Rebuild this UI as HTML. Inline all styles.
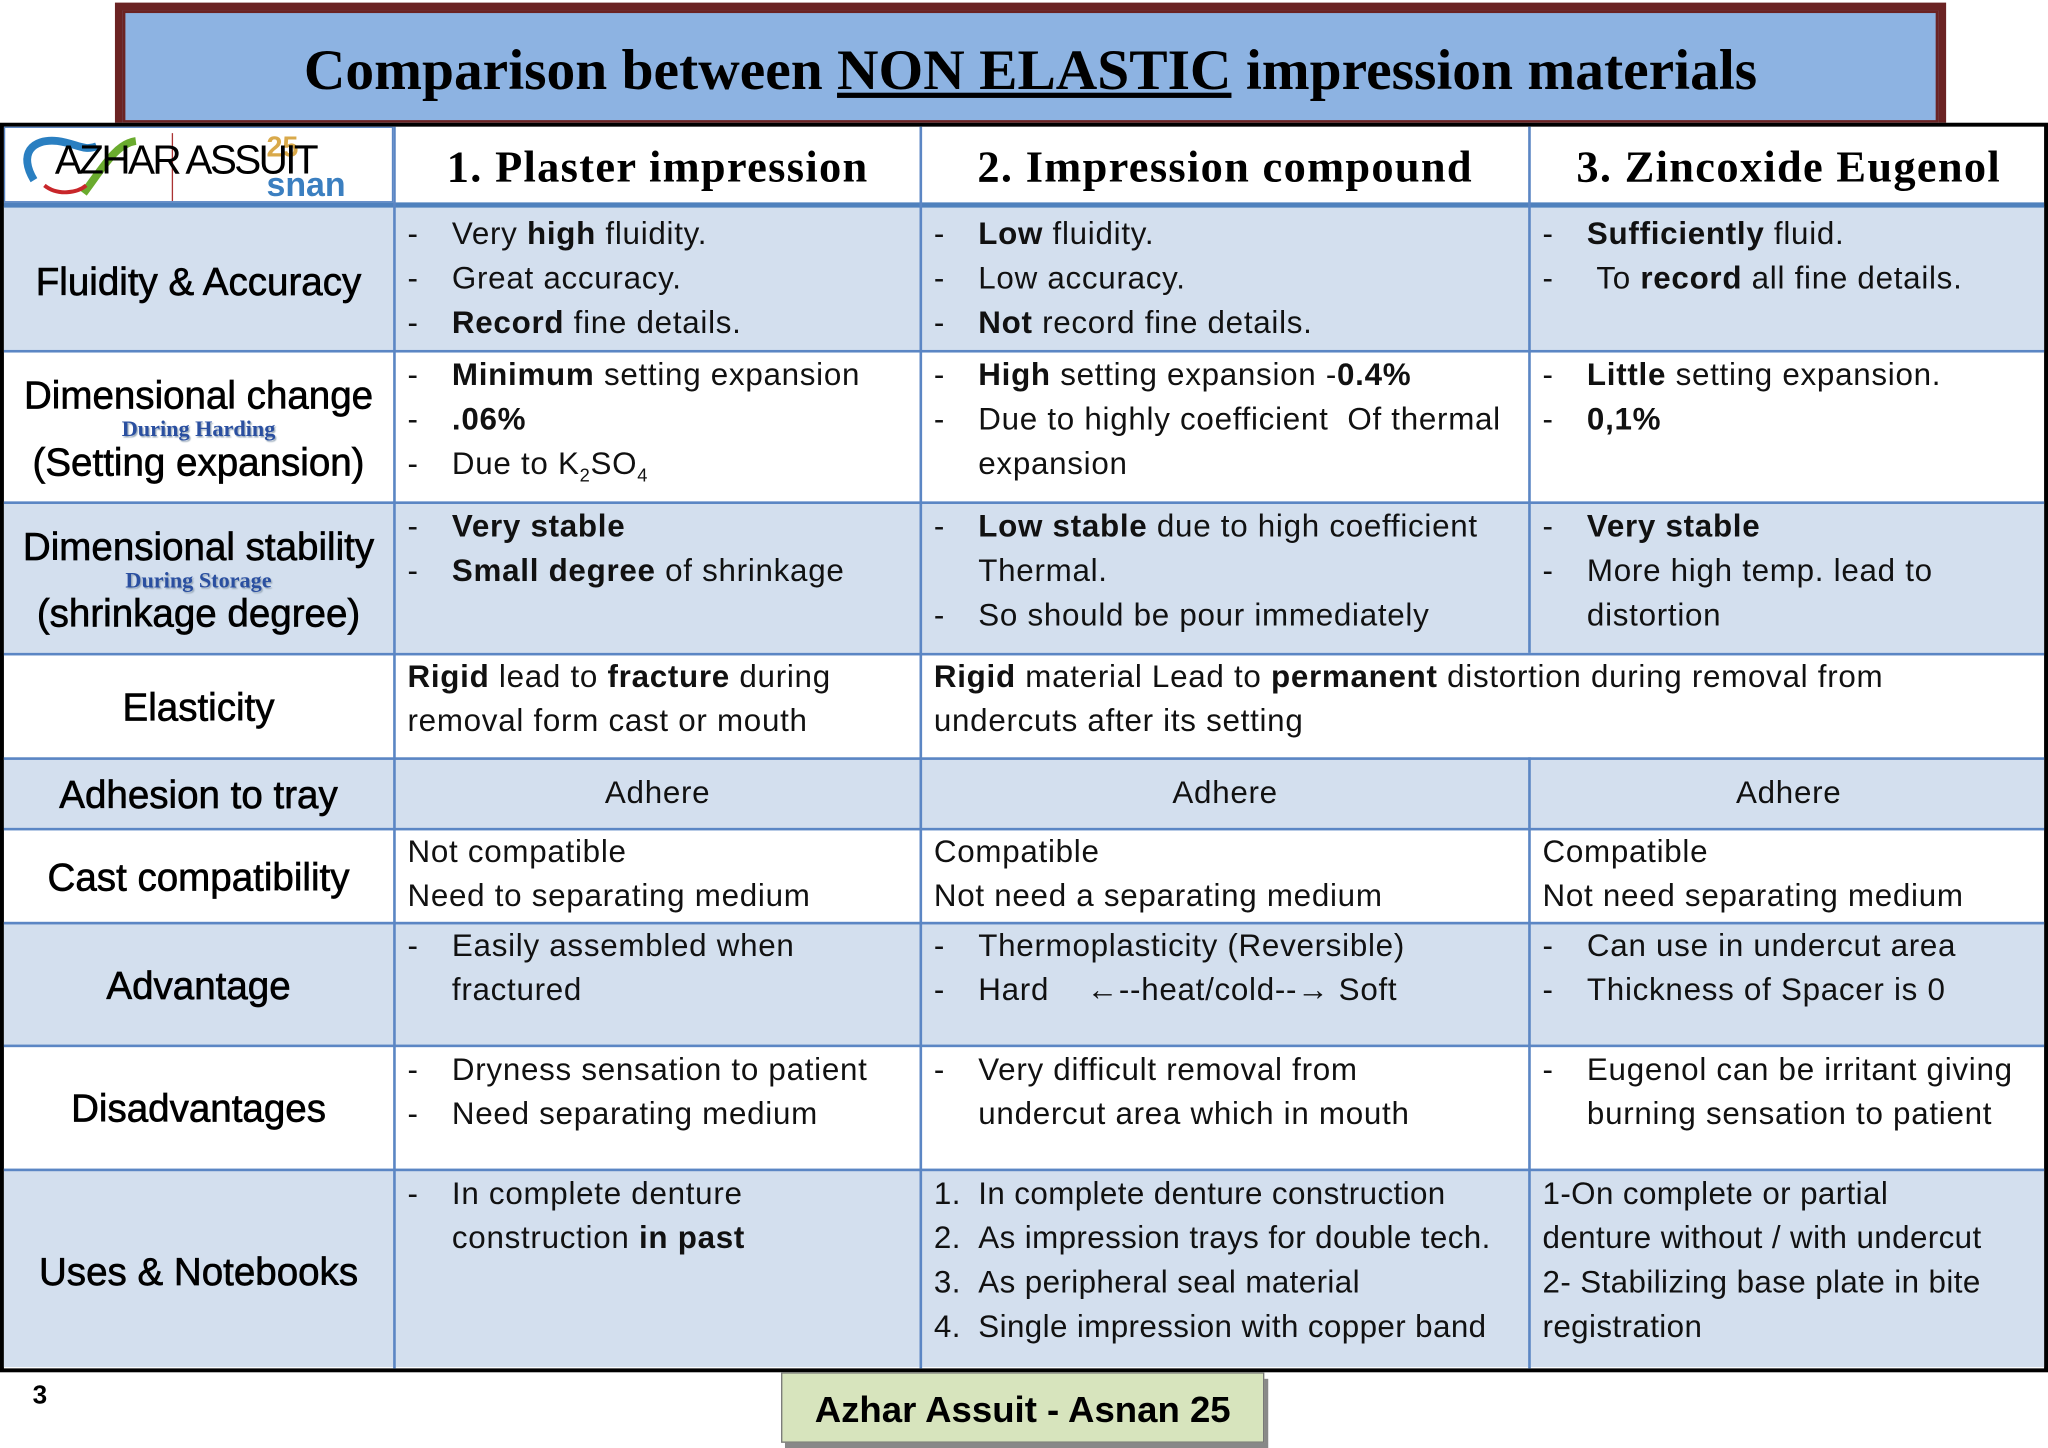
<!DOCTYPE html>
<html><head><meta charset="utf-8">
<style>
html,body{margin:0;padding:0;background:#fff;}
body{width:2048px;height:1448px;overflow:hidden;position:relative;}
#wrap{position:absolute;left:0;top:0;width:1568px;height:1109px;transform:scale(1.30612,1.3057);transform-origin:0 0;font-family:"Liberation Sans",sans-serif;}
.abs{position:absolute;box-sizing:border-box;}
.cell{position:absolute;box-sizing:border-box;font-size:24px;letter-spacing:0.55px;line-height:34px;color:#111;padding-top:1px;}
.ln{position:relative;padding-left:44px;white-space:nowrap;}
.ln .d{position:absolute;left:10px;}
.pl{padding-left:10px;white-space:nowrap;}
.lab{position:absolute;box-sizing:border-box;display:flex;flex-direction:column;justify-content:center;align-items:center;font-size:29.5px;-webkit-text-stroke:0.5px #000;color:#000;text-align:center;line-height:33px;}
.sub{font-family:"Liberation Serif",serif;font-weight:bold;font-size:17px;color:#2a4fa0;line-height:18px;-webkit-text-stroke:0;text-shadow:1px 1px 1px #9ab;}
.hd{position:absolute;box-sizing:border-box;font-family:"Liberation Serif",serif;font-weight:bold;font-size:34px;letter-spacing:1px;text-align:center;line-height:64px;color:#000;}
.vl{position:absolute;width:1.5px;background:#5b86c4;}
.hl{position:absolute;height:1.5px;background:#5b86c4;}
</style></head><body>
<div id="wrap">
<div class="abs" style="left:88px;top:2px;width:1402px;height:98px;background:#6b2323;"></div>
<div class="abs" style="left:94px;top:8px;width:1390px;height:86px;background:#8db3e2;border:2px solid #6b2323;box-shadow:inset 0 0 0 3px #8db3e2;"></div>
<div class="abs" style="left:88px;top:26px;width:1402px;text-align:center;font-family:'Liberation Serif',serif;font-weight:bold;font-size:44px;line-height:56px;color:#000;">Comparison between <u>NON ELASTIC</u> impression materials</div>

<div class="abs" style="left:0;top:94px;width:1568px;height:957px;background:#fff;border:3px solid #000;"></div>
<div class="abs" style="left:3px;top:158px;width:1562px;height:110px;background:#d3dfee;"></div>
<div class="abs" style="left:3px;top:384px;width:1562px;height:116px;background:#d3dfee;"></div>
<div class="abs" style="left:3px;top:580px;width:1562px;height:54px;background:#d3dfee;"></div>
<div class="abs" style="left:3px;top:706px;width:1562px;height:94px;background:#d3dfee;"></div>
<div class="abs" style="left:3px;top:895px;width:1562px;height:152px;background:#d3dfee;"></div>
<div class="abs" style="left:3px;top:155px;width:1562px;height:4px;background:#4f81bd;"></div>
<div class="hl" style="left:3px;top:268px;width:1562px;"></div>
<div class="hl" style="left:3px;top:384px;width:1562px;"></div>
<div class="hl" style="left:3px;top:500px;width:1562px;"></div>
<div class="hl" style="left:3px;top:580px;width:1562px;"></div>
<div class="hl" style="left:3px;top:634px;width:1562px;"></div>
<div class="hl" style="left:3px;top:706px;width:1562px;"></div>
<div class="hl" style="left:3px;top:800px;width:1562px;"></div>
<div class="hl" style="left:3px;top:895px;width:1562px;"></div>
<div class="vl" style="left:301px;top:97px;height:951px;"></div>
<div class="vl" style="left:704px;top:97px;height:951px;"></div>
<div class="vl" style="left:1170px;top:97px;height:403px;"></div>
<div class="vl" style="left:1170px;top:580px;height:468px;"></div>

<div class="abs" style="left:3px;top:97px;width:298px;height:58px;border:1.5px solid #5b86c4;">
<svg width="296" height="56" style="position:absolute;left:0;top:0">
<path d="M22 40 C10 20 20 8 40 10 C55 12 60 18 70 14" stroke="#2a7fc1" stroke-width="6" fill="none"/>
<path d="M60 50 C75 30 85 12 100 10" stroke="#6aab2e" stroke-width="6" fill="none"/>
<path d="M30 44 C40 52 55 50 62 44" stroke="#c8262a" stroke-width="3" fill="none"/>
<line x1="128" y1="4" x2="128" y2="56" stroke="#a33" stroke-width="1"/>
<text x="200" y="22" font-family="Liberation Sans" font-weight="bold" font-size="22" fill="#d9a94a">25</text>
<text x="200" y="52" font-family="Liberation Sans" font-weight="bold" font-size="26" fill="#3b7fc0">snan</text>
</svg>
<div class="abs" style="left:38px;top:8px;font-size:31px;letter-spacing:-2px;color:#000;line-height:34px;">AZHAR ASSUIT</div>
</div>

<div class="hd" style="left:302px;top:97px;width:403px;">1. Plaster impression</div>
<div class="hd" style="left:705px;top:97px;width:466px;">2. Impression compound</div>
<div class="hd" style="left:1171px;top:97px;width:397px;">3. Zincoxide Eugenol</div>

<div class="lab" style="left:3px;top:158px;width:298px;height:116px;">Fluidity &amp; Accuracy</div>
<div class="lab" style="left:3px;top:268px;width:298px;height:122px;"><div>Dimensional change</div><div class="sub">During Harding</div><div>(Setting expansion)</div></div>
<div class="lab" style="left:3px;top:384px;width:298px;height:122px;"><div>Dimensional stability</div><div class="sub">During Storage</div><div>(shrinkage degree)</div></div>
<div class="lab" style="left:3px;top:500px;width:298px;height:84px;">Elasticity</div>
<div class="lab" style="left:3px;top:580px;width:298px;height:58px;">Adhesion to tray</div>
<div class="lab" style="left:3px;top:634px;width:298px;height:76px;">Cast compatibility</div>
<div class="lab" style="left:3px;top:706px;width:298px;height:98px;">Advantage</div>
<div class="lab" style="left:3px;top:800px;width:298px;height:99px;">Disadvantages</div>
<div class="lab" style="left:3px;top:895px;width:298px;height:159px;">Uses &amp; Notebooks</div>

<div class="cell" style="left:302px;top:162px;width:403px;">
<div class="ln"><span class="d">-</span>Very <b>high</b> fluidity.</div>
<div class="ln"><span class="d">-</span>Great accuracy.</div>
<div class="ln"><span class="d">-</span><b>Record</b> fine details.</div></div>
<div class="cell" style="left:705px;top:162px;width:466px;">
<div class="ln"><span class="d">-</span><b>Low</b> fluidity.</div>
<div class="ln"><span class="d">-</span>Low accuracy.</div>
<div class="ln"><span class="d">-</span><b>Not</b> record fine details.</div></div>
<div class="cell" style="left:1171px;top:162px;width:397px;">
<div class="ln"><span class="d">-</span><b>Sufficiently</b> fluid.</div>
<div class="ln"><span class="d">-</span>&nbsp;To <b>record</b> all fine details.</div></div>
<div class="cell" style="left:302px;top:270px;width:403px;">
<div class="ln"><span class="d">-</span><b>Minimum</b> setting expansion</div>
<div class="ln"><span class="d">-</span><b>.06%</b></div>
<div class="ln" style="line-height:34px"><span class="d">-</span>Due to K<sub style="font-size:14px;line-height:0">2</sub>SO<sub style="font-size:14px;line-height:0">4</sub></div></div>
<div class="cell" style="left:705px;top:270px;width:466px;">
<div class="ln"><span class="d">-</span><b>High</b> setting expansion -<b>0.4%</b></div>
<div class="ln"><span class="d">-</span>Due to highly coefficient&nbsp; Of thermal</div>
<div class="ln">expansion</div></div>
<div class="cell" style="left:1171px;top:270px;width:397px;">
<div class="ln"><span class="d">-</span><b>Little</b> setting expansion.</div>
<div class="ln"><span class="d">-</span><b>0,1%</b></div></div>
<div class="cell" style="left:302px;top:386px;width:403px;">
<div class="ln"><span class="d">-</span><b>Very stable</b></div>
<div class="ln"><span class="d">-</span><b>Small degree</b> of shrinkage</div></div>
<div class="cell" style="left:705px;top:386px;width:466px;">
<div class="ln"><span class="d">-</span><b>Low stable</b> due to high coefficient</div>
<div class="ln">Thermal.</div>
<div class="ln"><span class="d">-</span>So should be pour immediately</div></div>
<div class="cell" style="left:1171px;top:386px;width:397px;">
<div class="ln"><span class="d">-</span><b>Very stable</b></div>
<div class="ln"><span class="d">-</span>More high temp. lead to</div>
<div class="ln">distortion</div></div>
<div class="cell" style="left:302px;top:501px;width:403px;">
<div class="pl"><b>Rigid</b> lead to <b>fracture</b> during</div>
<div class="pl">removal form cast or mouth</div></div>
<div class="cell" style="left:705px;top:501px;width:863px;">
<div class="pl"><b>Rigid</b> material Lead to <b>permanent</b> distortion during removal from</div>
<div class="pl">undercuts after its setting</div></div>
<div class="cell" style="left:302px;top:590px;width:403px;text-align:center;">Adhere</div>
<div class="cell" style="left:705px;top:590px;width:466px;text-align:center;">Adhere</div>
<div class="cell" style="left:1171px;top:590px;width:397px;text-align:center;">Adhere</div>
<div class="cell" style="left:302px;top:635px;width:403px;">
<div class="pl">Not compatible</div><div class="pl">Need to separating medium</div></div>
<div class="cell" style="left:705px;top:635px;width:466px;">
<div class="pl">Compatible</div><div class="pl">Not need a separating medium</div></div>
<div class="cell" style="left:1171px;top:635px;width:397px;">
<div class="pl">Compatible</div><div class="pl">Not need separating medium</div></div>
<div class="cell" style="left:302px;top:707px;width:403px;">
<div class="ln"><span class="d">-</span>Easily assembled when</div>
<div class="ln">fractured</div></div>
<div class="cell" style="left:705px;top:707px;width:466px;">
<div class="ln"><span class="d">-</span>Thermoplasticity (Reversible)</div>
<div class="ln"><span class="d">-</span>Hard &nbsp;&nbsp; ←--heat/cold--→ Soft</div></div>
<div class="cell" style="left:1171px;top:707px;width:397px;">
<div class="ln"><span class="d">-</span>Can use in undercut area</div>
<div class="ln"><span class="d">-</span>Thickness of Spacer is 0</div></div>
<div class="cell" style="left:302px;top:802px;width:403px;">
<div class="ln"><span class="d">-</span>Dryness sensation to patient</div>
<div class="ln"><span class="d">-</span>Need separating medium</div></div>
<div class="cell" style="left:705px;top:802px;width:466px;">
<div class="ln"><span class="d">-</span>Very difficult removal from</div>
<div class="ln">undercut area which in mouth</div></div>
<div class="cell" style="left:1171px;top:802px;width:397px;">
<div class="ln"><span class="d">-</span>Eugenol can be irritant giving</div>
<div class="ln">burning sensation to patient</div></div>
<div class="cell" style="left:302px;top:897px;width:403px;">
<div class="ln"><span class="d">-</span>In complete denture</div>
<div class="ln">construction <b>in past</b></div></div>
<div class="cell" style="left:705px;top:897px;width:466px;letter-spacing:0.3px;">
<div class="ln"><span class="d">1.</span>In complete denture construction</div>
<div class="ln"><span class="d">2.</span>As impression trays for double tech.</div>
<div class="ln"><span class="d">3.</span>As peripheral seal material</div>
<div class="ln"><span class="d">4.</span>Single impression with copper band</div></div>
<div class="cell" style="left:1171px;top:897px;width:397px;letter-spacing:0.3px;">
<div class="pl">1-On complete or partial</div>
<div class="pl">denture without / with undercut</div>
<div class="pl">2- Stabilizing base plate in bite</div>
<div class="pl">registration</div></div>

<div class="abs" style="left:25px;top:1058px;font-weight:bold;font-size:20px;">3</div>
<div class="abs" style="left:601px;top:1056px;width:370px;height:53px;background:#888;"></div>
<div class="abs" style="left:598px;top:1051px;width:370px;height:54px;background:#d7e4bd;border:1.5px solid #777;text-align:center;font-weight:bold;font-size:28px;line-height:56px;color:#000;">Azhar Assuit - Asnan 25</div>
</div>
</body></html>
